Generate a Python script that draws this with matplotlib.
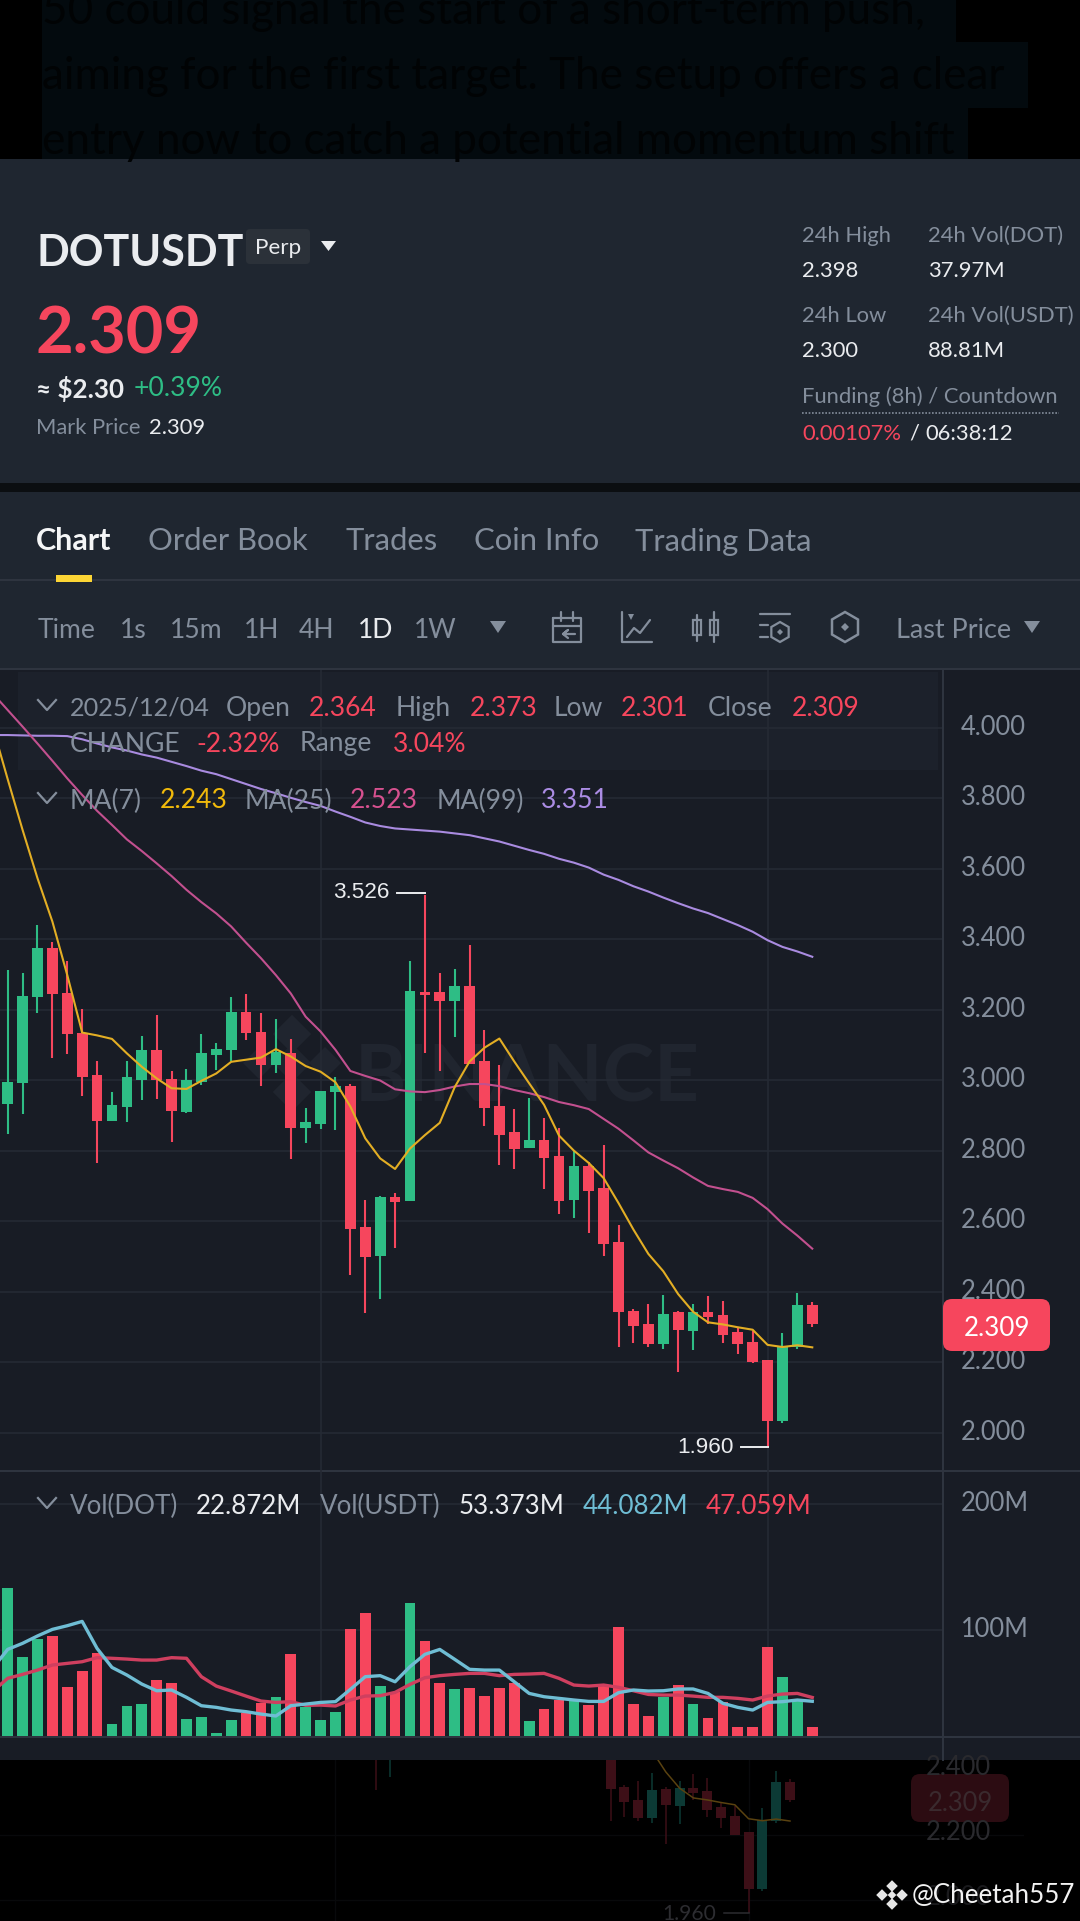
import matplotlib
matplotlib.use("Agg")
import matplotlib.pyplot as plt
from matplotlib.patches import Rectangle, FancyBboxPatch, Polygon, RegularPolygon
from matplotlib.transforms import ScaledTranslation

plt.rcParams['font.family'] = ['Lato', 'DejaVu Sans']

W, H = 1080, 1921

opens = [2.933, 2.992, 3.236, 3.375, 3.247, 3.136, 3.017, 2.885, 2.926, 3.002, 3.086, 3.005, 2.912, 2.997,
         3.072, 3.086, 3.194, 3.139, 3.043, 3.079, 2.864, 2.877, 2.967, 2.985, 2.583, 2.502, 2.669, 2.659,
         3.252, 3.250, 3.226, 3.267, 3.055, 2.927, 2.853, 2.808, 2.832, 2.785, 2.660, 2.757, 2.694, 2.543,
         2.347, 2.308, 2.252, 2.342, 2.290, 2.344, 2.336, 2.286, 2.257, 2.208, 2.033, 2.244, 2.364]
highs = [3.313, 3.306, 3.441, 3.394, 3.339, 3.203, 3.056, 2.967, 3.054, 3.127, 3.187, 3.027, 3.034, 3.133,
         3.105, 3.237, 3.244, 3.192, 3.175, 3.117, 2.923, 2.971, 3.011, 2.989, 2.661, 2.672, 2.680, 3.339,
         3.526, 3.304, 3.315, 3.385, 3.142, 3.044, 2.919, 2.950, 2.895, 2.864, 2.799, 2.768, 2.818, 2.591,
         2.353, 2.366, 2.392, 2.347, 2.367, 2.389, 2.375, 2.297, 2.288, 2.208, 2.283, 2.397, 2.373]
lows = [2.848, 2.904, 3.191, 3.063, 3.075, 2.957, 2.767, 2.885, 2.882, 2.945, 2.947, 2.825, 2.908, 2.987,
        3.030, 3.054, 3.116, 2.985, 3.020, 2.776, 2.822, 2.862, 2.860, 2.448, 2.340, 2.380, 2.524, 2.659,
        3.077, 3.028, 3.123, 3.048, 2.872, 2.759, 2.748, 2.808, 2.692, 2.622, 2.611, 2.566, 2.502, 2.244,
        2.254, 2.243, 2.238, 2.173, 2.235, 2.308, 2.256, 2.223, 2.199, 1.960, 2.028, 2.238, 2.301]
closes = [2.997, 3.241, 3.375, 3.244, 3.131, 3.010, 2.885, 2.931, 3.009, 3.086, 3.002, 2.913, 3.002, 3.077,
          3.090, 3.195, 3.135, 3.044, 3.082, 2.865, 2.883, 2.971, 2.985, 2.578, 2.500, 2.669, 2.656, 3.253,
          3.242, 3.226, 3.267, 3.048, 2.921, 2.846, 2.807, 2.832, 2.779, 2.659, 2.757, 2.687, 2.537, 2.342,
          2.303, 2.252, 2.339, 2.291, 2.344, 2.328, 2.278, 2.252, 2.201, 2.033, 2.247, 2.364, 2.309]

# moving averages start one day left of the first candle
ma7 = [4.003, 3.855, 3.711, 3.574, 3.451, 3.299, 3.136, 3.128, 3.118, 3.077, 3.039, 3.006, 2.978, 2.976,
       2.999, 3.020, 3.053, 3.059, 3.065, 3.089, 3.068, 3.041, 3.025, 2.995, 2.926, 2.836, 2.779, 2.749,
       2.807, 2.845, 2.880, 2.981, 3.054, 3.093, 3.119, 3.054, 2.992, 2.931, 2.844, 2.801, 2.766, 2.723,
       2.652, 2.577, 2.508, 2.459, 2.394, 2.344, 2.314, 2.308, 2.300, 2.293, 2.250, 2.244, 2.249, 2.243]
ma25 = [4.098, 4.051, 4.004, 3.956, 3.907, 3.857, 3.810, 3.765, 3.725, 3.684, 3.651, 3.616, 3.580, 3.541,
        3.506, 3.474, 3.437, 3.391, 3.347, 3.299, 3.247, 3.181, 3.139, 3.087, 3.027, 3.013, 3.000, 2.975,
        2.969, 2.967, 2.973, 2.983, 2.990, 2.990, 2.984, 2.973, 2.964, 2.953, 2.939, 2.930, 2.919, 2.891,
        2.863, 2.830, 2.796, 2.773, 2.751, 2.725, 2.701, 2.692, 2.684, 2.667, 2.635, 2.594, 2.560, 2.523]
ma99 = [3.980, 3.980, 3.979, 3.978, 3.978, 3.977, 3.968, 3.956, 3.945, 3.936, 3.925, 3.916, 3.904, 3.892,
        3.879, 3.869, 3.855, 3.841, 3.827, 3.815, 3.802, 3.790, 3.779, 3.763, 3.748, 3.732, 3.722, 3.715,
        3.712, 3.709, 3.706, 3.701, 3.696, 3.687, 3.678, 3.666, 3.654, 3.643, 3.629, 3.618, 3.604, 3.584,
        3.569, 3.551, 3.536, 3.519, 3.503, 3.488, 3.475, 3.458, 3.441, 3.422, 3.398, 3.379, 3.366, 3.351]

volumes = [133.2, 79.0, 93.2, 95.6, 55.6, 67.9, 81.9, 26.2, 40.3, 42.2, 60.9, 58.2, 29.8, 31.4, 18.8, 29.3,
           34.6, 42.5, 47.7, 81.4, 39.8, 29.0, 35.4, 101.3, 113.4, 56.4, 51.7, 121.3, 91.9, 58.2, 53.5, 54.3,
           48.5, 54.8, 58.2, 28.8, 38.0, 45.1, 45.1, 41.1, 56.9, 102.9, 41.7, 32.7, 47.7, 56.9, 41.9, 30.6,
           43.8, 23.8, 23.8, 87.1, 63.0, 45.1, 23.8]
vol_ma_blue = [70.1, 85.0, 89.8, 95.6, 100.8, 103.7, 107.1, 85.8, 70.8, 64.8, 57.7, 52.4, 53.0, 47.2, 40.6,
               39.3, 37.2, 35.9, 34.0, 32.5, 40.6, 41.9, 43.2, 43.8, 53.5, 63.5, 64.3, 59.5, 71.4, 81.1, 85.0,
               77.2, 69.3, 68.7, 68.7, 59.5, 50.3, 47.7, 46.4, 45.1, 44.0, 44.0, 50.9, 53.0, 52.2, 52.4, 53.8,
               53.8, 50.3, 42.5, 39.3, 37.2, 43.2, 43.8, 45.1, 44.1]
vol_ma_red = [52.0, 62.2, 65.3, 68.7, 72.7, 74.0, 75.3, 78.5, 78.0, 77.4, 76.6, 76.6, 78.5, 78.0, 63.5, 56.1,
              52.2, 48.2, 44.3, 43.2, 43.8, 40.9, 41.1, 40.4, 45.1, 48.2, 48.5, 51.1, 57.4, 62.7, 64.3, 65.3,
              66.1, 66.1, 64.3, 65.3, 65.6, 66.1, 62.2, 56.9, 56.1, 56.9, 55.1, 52.4, 49.5, 49.0, 49.0, 48.2,
              47.2, 47.2, 46.4, 45.1, 48.2, 49.8, 50.3, 47.1]

price_ticks = [2.0, 2.2, 2.4, 2.6, 2.8, 3.0, 3.2, 3.4, 3.6, 3.8, 4.0]
vol_ticks = [100, 200]
vol_tick_labels = ['100M', '200M']
vgrid_days = [21, 51]

RED = '#f6465d'
GREEN = '#2ebd85'
GREY = '#848e9c'
WHITE = '#eaecef'
PANEL = '#1f2630'
CHART = '#181c25'
GRID = '#252a34'
LINE = '#2f3540'

days = list(range(len(opens)))
ma_days = list(range(-1, len(opens)))


def px_axes(x0, y0, x1, y1, zorder=1):
    a = fig.add_axes([x0 / W, 1 - y1 / H, (x1 - x0) / W, (y1 - y0) / H], zorder=zorder)
    a.patch.set_alpha(0)
    for s in a.spines.values():
        s.set_visible(False)
    return a


def candles(a, up, down, wick_lw, width=0.72):
    cols = [up if c >= o else down for o, c in zip(opens, closes)]
    a.vlines(days, lows, highs, colors=cols, lw=wick_lw, zorder=3)
    tops = [max(o, c) for o, c in zip(opens, closes)]
    bots = [min(o, c) for o, c in zip(opens, closes)]
    a.bar(days, [t - b for t, b in zip(tops, bots)], bottom=bots, width=width, color=cols, zorder=3)


fig = plt.figure(figsize=(W / 100, H / 100), dpi=100, facecolor='black')

# pixel canvas for panels, everything UI goes on top one
bg = px_axes(0, 0, W, H, zorder=0)
bg.set_xlim(0, W)
bg.set_ylim(H, 0)
bg.axis('off')
ui = px_axes(0, 0, W, H, zorder=5)
ui.set_xlim(0, W)
ui.set_ylim(H, 0)
ui.axis('off')

# top text strip
for x1, y0, y1 in [(956, 0, 42), (1028, 42, 108), (968, 108, 159)]:
    bg.add_patch(Rectangle((42, y0), x1 - 42, y1 - y0, fc='#030a0e', ec='none'))
bg.add_patch(Rectangle((0, 159), W, 324, fc=PANEL, ec='none'))
bg.add_patch(Rectangle((0, 483), W, 9, fc='#0b0e11', ec='none'))
bg.add_patch(Rectangle((0, 492), W, 178, fc=PANEL, ec='none'))
bg.add_patch(Rectangle((0, 670), W, 1090, fc=CHART, ec='none'))
bg.add_patch(Rectangle((18, 672), 920, 98, fc='#1c212b', ec='none'))


def T(x, y, s, size, color=GREY, weight='normal', ha='left', axx=None, family=None):
    (axx or ui).text(x, y + 1.5, s, fontsize=size * 0.72, color=color, fontweight=weight, ha=ha, va='center',
                     family=family or plt.rcParams['font.family'])


T(42, 10, '50 could signal the start of a short-term push,', 44, '#010304', axx=bg)
T(42, 75, 'aiming for the first target. The setup offers a clear', 44, '#010304', axx=bg)
T(42, 140, 'entry now to catch a potential momentum shift', 44, '#010304', axx=bg)

# watermark in chart
T(355, 1078, 'BINANCE', 78, '#20252f', 'bold', axx=bg)
for cx, cy, r in [(292, 1063, 12), (259, 1063, 10), (325, 1063, 10), (292, 1034, 12), (292, 1092, 12)]:
    bg.add_patch(RegularPolygon((cx, cy), 4, radius=r * 1.6, fc='#20252f', ec='none'))

# header
T(36, 251, 'DOTUSDT', 43, WHITE, 'bold')
ui.add_patch(FancyBboxPatch((246, 229), 64, 35, boxstyle='round,pad=0,rounding_size=4', fc='#2b3139', ec='none'))
T(278, 247, 'Perp', 22.5, WHITE, ha='center')
ui.add_patch(Polygon([(321, 241), (336, 241), (328.5, 251)], fc=WHITE, ec='none'))
T(36, 334, '2.309', 65, RED, 'bold')
T(36, 387, '≈ $2.30', 26, WHITE, 'bold')
T(134, 387, '+0.39%', 26.5, GREEN)
T(36, 426, 'Mark Price', 22)
T(149, 426, '2.309', 22, WHITE)
T(802, 234.5, '24h High', 22)
T(802, 269.5, '2.398', 22, WHITE)
T(928, 234.5, '24h Vol(DOT)', 22)
T(928, 269.5, '37.97M', 22, WHITE)
T(802, 314.5, '24h Low', 22)
T(802, 349.5, '2.300', 22, WHITE)
T(928, 314.5, '24h Vol(USDT)', 22)
T(928, 349.5, '88.81M', 22, WHITE)
T(802, 395.5, 'Funding (8h) / Countdown', 22)
ui.plot([802, 1059], [413, 413], color=GREY, lw=1.2, ls=(0, (1, 1)))
T(802, 432.5, '0.00107%', 22, RED)
T(909, 432.5, '/', 22, WHITE)
T(925, 432.5, '06:38:12', 22, WHITE)

# tabs
T(36, 540, 'Chart', 30.5, '#f5f6f7', 'bold')
for x, s in [(148, 'Order Book'), (345, 'Trades'), (474, 'Coin Info'), (635, 'Trading Data')]:
    T(x, 540, s, 31)
bg.plot([0, W], [580, 580], color=LINE, lw=1.4)
ui.add_patch(Rectangle((56, 575), 36, 7, fc='#fcd535', ec='none'))
for x, s in [(38, 'Time'), (120, '1s'), (170, '15m'), (244, '1H'), (299, '4H'), (414, '1W')]:
    T(x, 628.5, s, 26.5)
T(358, 628.5, '1D', 26.5, WHITE)
T(896, 628.5, 'Last Price', 27)
bg.plot([0, W], [669, 669], color=LINE, lw=1.4)
for cx in (498, 1032):
    ui.add_patch(Polygon([(cx - 8, 621), (cx + 8, 621), (cx, 633)], fc=GREY, ec='none'))

# toolbar icons
ic = dict(color=GREY, lw=1.6, solid_capstyle='round')
ui.plot([553, 581, 581, 553, 553], [618, 618, 642, 642, 618], **ic)
ui.plot([553, 581], [626, 626], **ic)
ui.plot([561, 561], [612, 621], **ic)
ui.plot([573, 573], [612, 621], **ic)
ui.plot([575, 563, 568, 563, 568], [634, 634, 630, 634, 638], **ic)
ui.plot([622, 622, 652], [612, 642, 642], **ic)
ui.plot([627, 634, 640, 650], [637, 628, 633, 620], **ic)
ui.add_patch(Polygon([(628, 614), (634, 614), (631, 620)], fc=GREY, ec='none'))
for x0 in (693, 710):
    ui.add_patch(Rectangle((x0, 620), 8, 15, fc='none', ec=GREY, lw=1.6))
ui.plot([697, 697], [615, 641], **ic)
ui.plot([714, 714], [612, 642], **ic)
ui.plot([760, 790], [614, 614], **ic)
ui.plot([760, 768], [625, 625], **ic)
ui.plot([760, 768], [637, 637], **ic)
ui.add_patch(RegularPolygon((780, 632), 6, radius=10, fc='none', ec=GREY, lw=1.6))
ui.add_patch(RegularPolygon((780, 632), 4, radius=3, fc=GREY, ec='none'))
ui.add_patch(RegularPolygon((845, 627), 6, radius=15, fc='none', ec=GREY, lw=1.8))
ui.add_patch(RegularPolygon((845, 627), 4, radius=4, fc=GREY, ec='none'))

up_3px = ScaledTranslation(0, 3 / 100, fig.dpi_scale_trans)

# price panel: Y = 869 at 3.6, 352.5 px per unit
ax = px_axes(0, 670, 942, 1471)
ax.set_ylim(3.6 - (1471 - 869) / 352.5, 3.6 + (869 - 670) / 352.5)
ax.set_xlim(-7.67 / 14.9, (942 - 7.67) / 14.9)
ax.set_yticks(price_ticks, ['%.3f' % p for p in price_ticks])
ax.set_xticks(vgrid_days, [])
ax.yaxis.tick_right()
ax.tick_params(length=0, pad=13.5, labelsize=25.5 * 0.72, labelcolor=GREY)
ax.grid(True, color=GRID, lw=1.2)
ax.set_axisbelow(True)
candles(ax, GREEN, RED, 1.5)
ax.plot(ma_days, ma99, color='#a98be0', lw=1.5, zorder=4)
ax.plot(ma_days, ma25, color='#c2508f', lw=1.5, zorder=4)
ax.plot(ma_days, ma7, color='#e3ae24', lw=1.5, zorder=4)
hi_i = highs.index(max(highs))
lo_i = lows.index(min(lows))
ax.plot([hi_i - 1.85, hi_i], [max(highs) + 0.007] * 2, color=WHITE, lw=1.4, zorder=4)
ax.plot([lo_i - 1.8, lo_i], [min(lows)] * 2, color=WHITE, lw=1.4, zorder=4)
ax.text(hi_i - 2.35, max(highs) + 0.007, '%.3f' % max(highs), color=WHITE, fontsize=22.5 * 0.72, ha='right', va='center',
        family='Liberation Sans')
ax.text(lo_i - 2.3, min(lows), '%.3f' % min(lows), color=WHITE, fontsize=22.5 * 0.72, ha='right', va='center',
        family='Liberation Sans')

# volume panel: 100M at 1630.4, 1.268 px per M
vx = px_axes(0, 1471, 942, 1736)
vx.set_ylim((1757.2 - 1736) / 1.268, (1757.2 - 1471) / 1.268)
vx.set_xlim(ax.get_xlim())
vx.set_yticks(vol_ticks, vol_tick_labels)
vx.set_xticks(vgrid_days, [])
vx.yaxis.tick_right()
vx.tick_params(length=0, pad=13.5, labelsize=25.5 * 0.72, labelcolor=GREY)
vx.grid(True, color=GRID, lw=1.2)
vx.set_axisbelow(True)
vol_cols = [GREEN if c >= o else RED for o, c in zip(opens, closes)]
vx.bar(days, volumes, width=0.72, color=vol_cols, zorder=3)
vx.plot(ma_days, vol_ma_red, color='#cf3f5f', lw=2.4, zorder=4)
vx.plot(ma_days, vol_ma_blue, color='#6fbdd4', lw=2.4, zorder=4)

for lab in ax.get_yticklabels() + vx.get_yticklabels():
    lab.set_transform(lab.get_transform() + up_3px)

bg.plot([942.5, 942.5], [670, 1760], color=LINE, lw=1.4)
bg.plot([0, W], [1471, 1471], color=LINE, lw=1.4)
bg.plot([0, W], [1737, 1737], color=LINE, lw=1.4)


# legend rows
def chevron(y):
    ui.plot([38, 47, 56], [y - 5, y + 5, y - 5], color=GREY, lw=1.6)


chevron(705)
for x, s, c in [(226, 'Open', GREY), (309, '2.364', RED), (396, 'High', GREY),
                (470, '2.373', RED), (554, 'Low', GREY), (621, '2.301', RED), (708, 'Close', GREY), (792, '2.309', RED)]:
    T(x, 707, s, 26.5, c)
T(70, 707, '2025/12/04', 25.2)
for x, s, c in [(70, 'CHANGE', GREY), (196, '-2.32%', RED), (300, 'Range', GREY), (393, '3.04%', RED)]:
    T(x, 742.5, s, 26.5, c)
chevron(798)
for x, s, c in [(70, 'MA(7)', GREY), (160, '2.243', '#f0b90b'), (245, 'MA(25)', GREY), (350, '2.523', '#d6518f'),
                (437, 'MA(99)', GREY), (541, '3.351', '#ab8ce4')]:
    T(x, 799.5, s, 26.5, c)
chevron(1503)
for x, s, c in [(70, 'Vol(DOT)', GREY), (196, '22.872M', WHITE), (320, 'Vol(USDT)', GREY), (459, '53.373M', WHITE),
                (583, '44.082M', '#6fbdd4'), (706, '47.059M', RED)]:
    T(x, 1505, s, 26, c)

# price badge
ui.add_patch(FancyBboxPatch((943, 1299), 107, 52, boxstyle='round,pad=0,rounding_size=9', fc=RED, ec='none'))
T(997, 1327.5, '%.3f' % closes[-1], 26, '#ffffff', ha='center')

# dimmed copy of the chart at the bottom: 2.4 at Y=1770, 325 px per unit
dim = px_axes(0, 1760, 1024, H, zorder=1)
dim.set_ylim(2.4 - (H - 1770) / 325, 2.4 + 10 / 325)
dim.set_xlim(51 - 748.6 / 13.8, 51 + (1024 - 748.6) / 13.8)
dim.set_xticks(vgrid_days, [])
dim.set_yticks([2.0, 2.2], [])
dim.tick_params(length=0)
dim.grid(True, color='#08090b', lw=1)
dim.set_axisbelow(True)
candles(dim, '#0c3a35', '#3d0f17', 1.1)
dim.plot(ma_days, ma7, color='#5a4210', lw=1.1, zorder=4)
dim.plot([lo_i - 1.8, lo_i], [min(lows)] * 2, color='#2c2c30', lw=1.1, zorder=4)
T(716, 1912, '%.3f' % min(lows), 21, '#2c2c30', ha='right')
T(958, 1766, '2.400', 25.5, '#2a2a2e', ha='center')
T(958, 1831, '2.200', 25.5, '#2a2a2e', ha='center')
T(958, 1896, '2.000', 25.5, '#1a1a1d', ha='center')
ui.add_patch(FancyBboxPatch((911, 1774), 98, 48, boxstyle='round,pad=0,rounding_size=9', fc='#2c0c12', ec='none'))
T(960, 1802, '2.309', 25.5, '#3a2a2e', ha='center')

# bottom right credit
for cx, cy, r in [(892, 1886, 4), (882, 1895, 4), (902, 1895, 4), (892, 1904, 4), (892, 1895, 3)]:
    ui.add_patch(RegularPolygon((cx, cy), 4, radius=r * 1.45, fc='#e6e6e6', ec='none'))
T(912, 1894.5, '@Cheetah557', 26, '#f2f2f2')

fig.savefig('out.png', dpi=100, facecolor='black')
